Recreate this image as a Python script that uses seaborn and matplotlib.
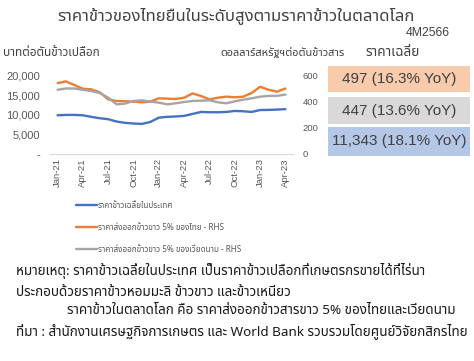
import matplotlib
matplotlib.use("Agg")
import matplotlib.pyplot as plt
from matplotlib import font_manager
from matplotlib.patches import Rectangle
import seaborn as sns
import pandas as pd
from fontTools.ttLib import TTFont

# ---------------- data ----------------
months = ["Jan-21", "Feb-21", "Mar-21", "Apr-21", "May-21", "Jun-21", "Jul-21", "Aug-21", "Sep-21",
          "Oct-21", "Nov-21", "Dec-21", "Jan-22", "Feb-22", "Mar-22", "Apr-22", "May-22", "Jun-22",
          "Jul-22", "Aug-22", "Sep-22", "Oct-22", "Nov-22", "Dec-22", "Jan-23", "Feb-23", "Mar-23", "Apr-23"]
domestic_thb = [9900, 10000, 10000, 9900, 9500, 9150, 8900, 8300, 7970, 7800, 7700, 8200, 9300, 9500,
                9600, 9750, 10250, 10760, 10680, 10680, 10760, 11020, 10930, 10760, 11250, 11280, 11370, 11470]
thai_usd = [544, 557, 529, 501, 496, 473, 419, 407, 405, 402, 397, 402, 427, 425,
            422, 432, 465, 445, 419, 432, 440, 435, 440, 468, 516, 493, 478, 503]
viet_usd = [493, 503, 503, 493, 483, 468, 432, 381, 387, 407, 412, 402, 394, 381,
            389, 399, 407, 409, 412, 397, 389, 404, 417, 427, 440, 446, 446, 456]
left_ticks = [0, 5000, 10000, 15000, 20000]
left_ticklabels = ["-", "5,000", "10,000", "15,000", "20,000"]
right_ticks = [0, 200, 400, 600]
series_names = ["ราคาข้าวเฉลี่ยในประเทศ",
                "ราคาส่งออกข้าวขาว 5% ของไทย - RHS",
                "ราคาส่งออกข้าวขาว 5% ของเวียดนาม - RHS"]
box_texts = ["497 (16.3% YoY)", "447 (13.6% YoY)", "11,343 (18.1% YoY)"]

title = "ราคาข้าวของไทยยืนในระดับสูงตามราคาข้าวในตลาดโลก"
period = "4M2566"
left_unit = "บาทต่อตันข้าวเปลือก"
right_unit = "ดอลลาร์สหรัฐฯต่อตันข้าวสาร"
avg_label = "ราคาเฉลี่ย"
notes = ["หมายเหตุ: ราคาข้าวเฉลี่ยในประเทศ เป็นราคาข้าวเปลือกที่เกษตรกรขายได้ที่ไร่นา",
         "ประกอบด้วยราคาข้าวหอมมะลิ ข้าวขาว และข้าวเหนียว",
         "ราคาข้าวในตลาดโลก คือ ราคาส่งออกข้าวสารขาว 5% ของไทยและเวียดนาม",
         "ที่มา : สำนักงานเศรษฐกิจการเกษตร และ World Bank รวบรวมโดยศูนย์วิจัยกสิกรไทย"]

# ---------------- font with Thai glyphs ----------------
def find_thai_font():
    prefs = ["Noto Sans Thai", "Noto Sans Thai UI", "Loma", "Garuda", "Tahoma", "Leelawadee UI",
             "Sarabun", "Kinnari", "Norasi", "Umpush", "Waree", "Laksaman", "DejaVu Sans"]
    found = {}
    for f in font_manager.fontManager.ttflist:
        try:
            tt = TTFont(f.fname, fontNumber=0, lazy=True)
            cmap = tt.getBestCmap() or {}
            if 0x0E01 in cmap and 0x0E32 in cmap:
                found.setdefault(f.name, f.fname)
        except Exception:
            pass
    for p in prefs:
        if p in found:
            return p
    return sorted(found)[0] if found else None

sns.set_theme(style="white")
thai = find_thai_font()
fams = ([thai] if thai else []) + ["Liberation Sans", "DejaVu Sans"]
plt.rcParams["font.family"] = fams
NUMFONT = ["Liberation Sans", "DejaVu Sans"]

BLUE, ORANGE, GRAY = "#4472C4", "#ED7D31", "#A5A5A5"
TXT = "#404040"
TICK = "#595959"

df = pd.DataFrame({"idx": range(len(months)), "month": months,
                   "domestic": domestic_thb, "thai": thai_usd, "viet": viet_usd})

W, H = 474, 361
fig = plt.figure(figsize=(W / 100, H / 100), dpi=100)
fig.patch.set_facecolor("white")

def px(x0, y0, x1, y1):
    return [x0 / W, 1 - y1 / H, (x1 - x0) / W, (y1 - y0) / H]

ax = fig.add_axes(px(50, 68, 293, 154))
sns.lineplot(data=df, x="idx", y="domestic", ax=ax, color=BLUE, linewidth=1.7, label=series_names[0], legend=False)
ax2 = ax.twinx()
sns.lineplot(data=df, x="idx", y="thai", ax=ax2, color=ORANGE, linewidth=1.7, label=series_names[1], legend=False)
sns.lineplot(data=df, x="idx", y="viet", ax=ax2, color=GRAY, linewidth=1.7, label=series_names[2], legend=False)

ax.set_xlim(-0.9, 27.9)
ax.set_ylim(0, 22000)
ax2.set_ylim(0, 660)
ax.set_yticks(left_ticks)
ax.set_yticklabels(left_ticklabels)
ax2.set_yticks(right_ticks)
ax2.set_yticklabels([str(v) for v in right_ticks])
ax.set_xticks(list(range(0, len(months), 3)))
ax.set_xticklabels(months[::3], rotation=90)
for a in (ax, ax2):
    a.set_xlabel("")
    a.set_ylabel("")
    for s in a.spines.values():
        s.set_visible(False)
    a.grid(False)
    a.set_facecolor("none")
ax.spines["bottom"].set_visible(True)
ax.spines["bottom"].set_color("#D9D9D9")
ax.spines["bottom"].set_linewidth(0.8)
ax.tick_params(axis="y", length=0, pad=7, labelsize=8, labelcolor=TICK)
ax.tick_params(axis="x", length=0, pad=3, labelsize=6.8, labelcolor=TICK)
ax2.tick_params(axis="y", length=0, pad=7, labelsize=6.8, labelcolor=TICK)
for lbl in ax.get_yticklabels() + ax.get_xticklabels() + ax2.get_yticklabels():
    lbl.set_family(NUMFONT)

handles = ax.get_lines()[:1] + ax2.get_lines()[:2]
leg = fig.legend(handles, series_names, loc="upper left", bbox_to_anchor=(73 / W, 1 - 198 / H),
                 frameon=False, fontsize=5.9, handlelength=2.5, handletextpad=0.1,
                 labelspacing=1.55, borderaxespad=0)
for t in leg.get_texts():
    t.set_color(TICK)

# ---------------- texts ----------------
fig.text(236 / W, 1 - 16 / H, title, ha="center", va="center", fontsize=12, color=TXT)
fig.text(428 / W, 1 - 33 / H, period, ha="center", va="center", fontsize=8.8, color=TXT, family=NUMFONT)
fig.text(3 / W, 1 - 53 / H, left_unit, ha="left", va="center", fontsize=8.5, color=TXT)
fig.text(345 / W, 1 - 53 / H, right_unit, ha="right", va="center", fontsize=7.9, color=TXT)
fig.text(393 / W, 1 - 53 / H, avg_label, ha="center", va="center", fontsize=9.8, color=TXT)

box_colors = ["#F8CBAD", "#D9D9D9", "#B4C7E7"]
box_rows = [(66, 92), (97, 124), (127, 156)]
for (y0, y1), c, t in zip(box_rows, box_colors, box_texts):
    fig.patches.append(Rectangle((328 / W, 1 - y1 / H), (470 - 328) / W, (y1 - y0) / H,
                                 transform=fig.transFigure, facecolor=c, edgecolor="none"))
    fig.text(399 / W, 1 - (y0 + y1) / 2 / H, t, ha="center", va="center", fontsize=11, color=TXT,
             family=NUMFONT)

note_pos = [(16, 271), (16, 293), (67, 311), (16, 331)]
for (x, y), t in zip(note_pos, notes):
    fig.text(x / W, 1 - y / H, t, ha="left", va="center", fontsize=9.7, color="#1a1a1a")

fig.savefig("out.png", dpi=100, facecolor="white")
